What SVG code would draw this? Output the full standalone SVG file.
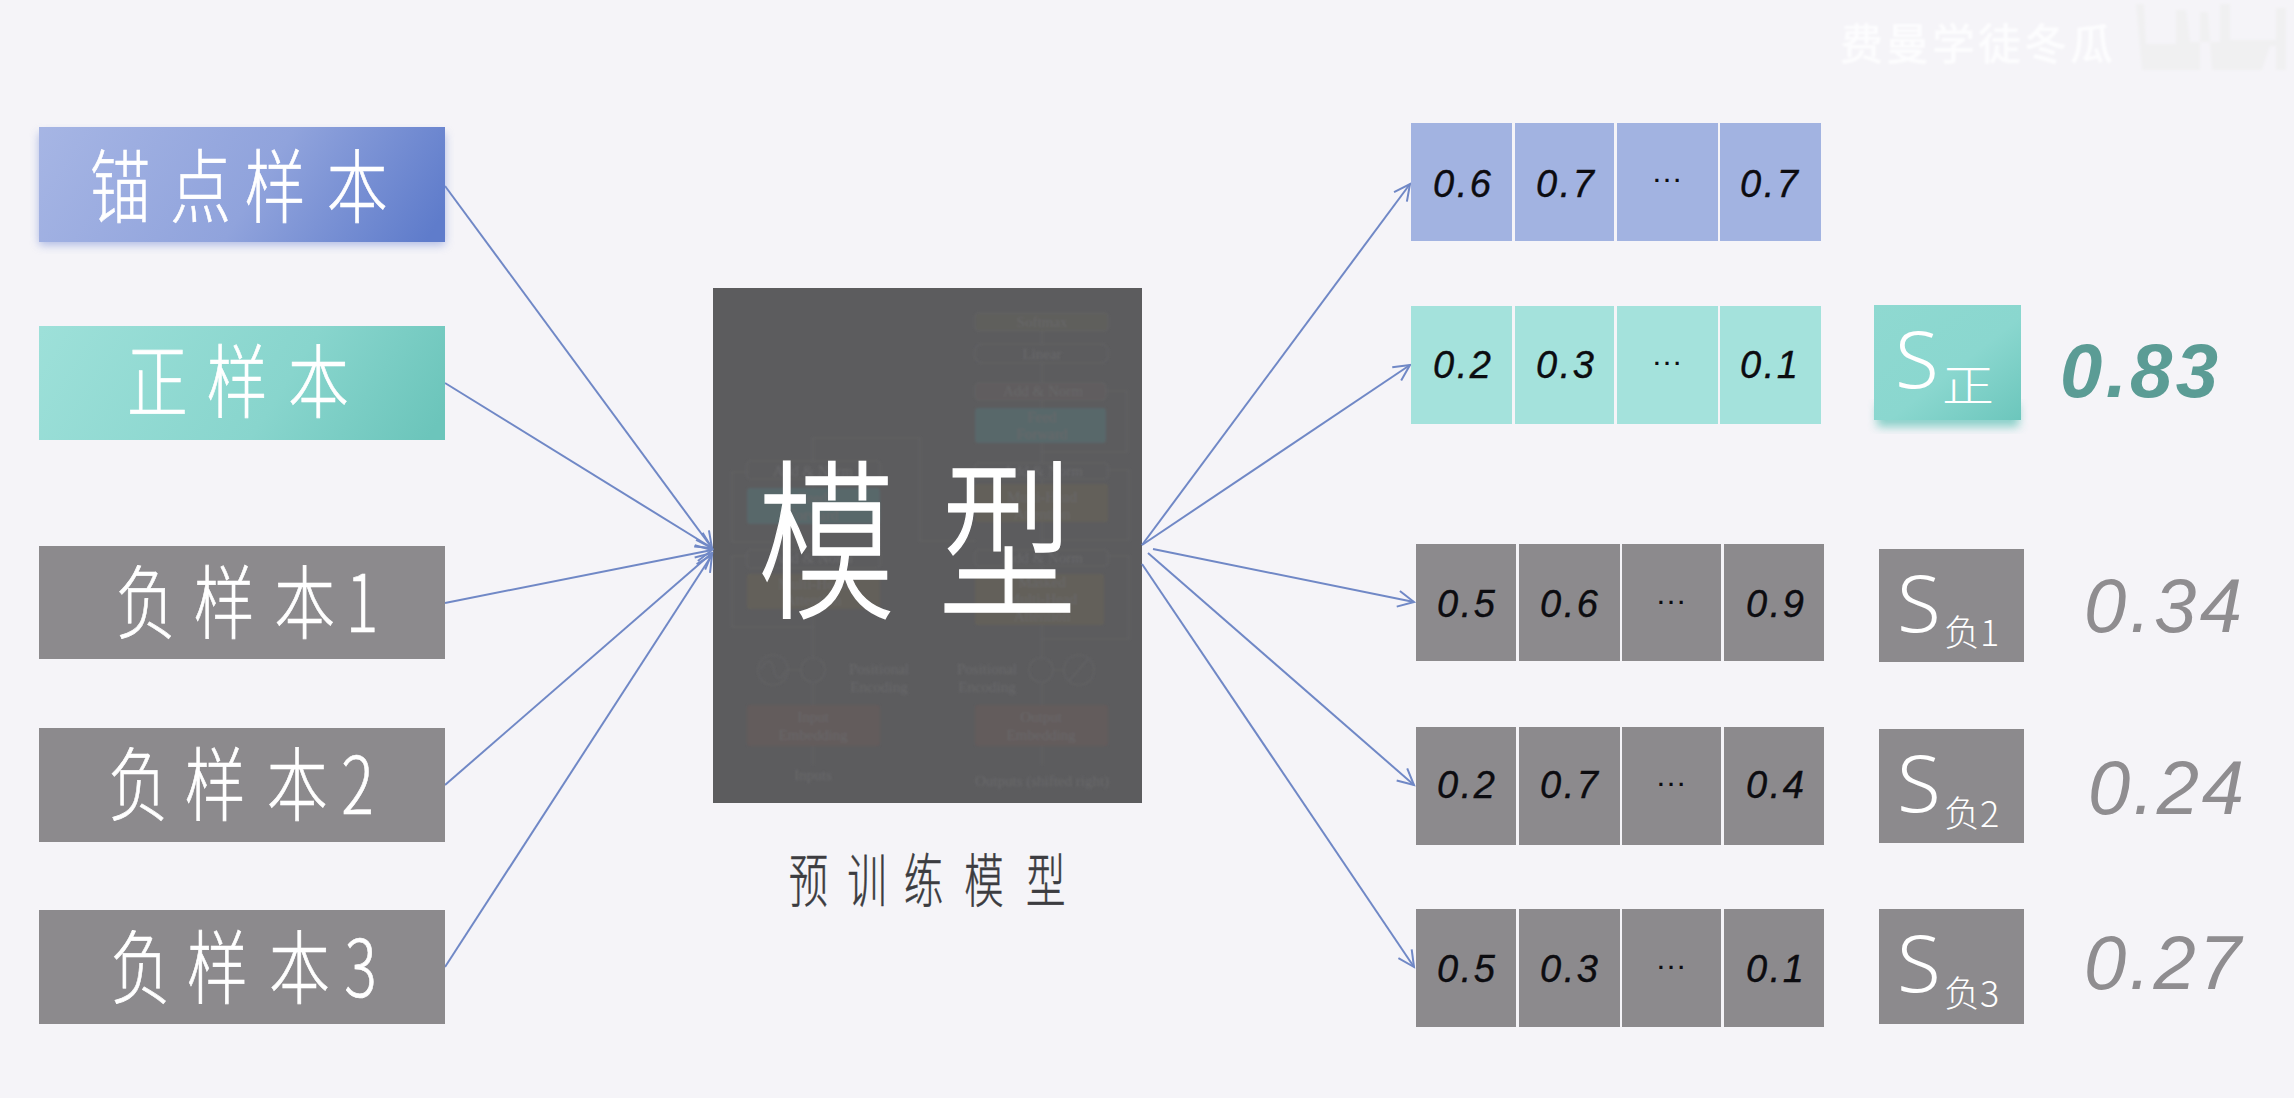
<svg xmlns="http://www.w3.org/2000/svg" width="2294" height="1098" viewBox="0 0 2294 1098">
<style>
.label{font-family:"Noto Sans CJK SC","Noto Sans",sans-serif;font-weight:300;fill:#fff;stroke:#fff;stroke-width:.7;font-size:80px}
.gray{fill:#8c8a8d}
.cell{font-family:"Liberation Sans",sans-serif;font-style:italic;font-size:38px;fill:#0c0c10;stroke:#0c0c10;stroke-width:.4;text-anchor:middle}
.dots{font-family:"Liberation Sans",sans-serif;font-size:32px;fill:#0c0c10;text-anchor:middle}
.bigS{font-family:"Noto Sans",sans-serif;font-weight:300;font-size:80px;fill:#fff}
.sub{font-family:"Noto Sans CJK SC",sans-serif;font-weight:300;fill:#fff;font-size:36px}
.val{font-family:"Liberation Sans",sans-serif;font-style:italic;font-size:76px;fill:#8f8d90}
.ghost{font-family:"Liberation Serif",serif;font-size:15px;fill:#69696b;text-anchor:middle}
.gbox{fill:none;stroke:#636365;stroke-width:1.2}
.gline{fill:none;stroke:#636365;stroke-width:1.2}
.conn{fill:none;stroke:#7088c6;stroke-width:2;marker-end:url(#arr)}
</style>
<defs>
<linearGradient id="gA" gradientUnits="userSpaceOnUse" x1="60" y1="60" x2="420" y2="290"><stop offset="0" stop-color="#a8b7e5"/><stop offset=".55" stop-color="#90a3dc"/><stop offset=".95" stop-color="#5f7ccb"/></linearGradient>
<linearGradient id="gP" gradientUnits="userSpaceOnUse" x1="60" y1="260" x2="420" y2="490"><stop offset="0" stop-color="#9fe1da"/><stop offset=".6" stop-color="#88d5cd"/><stop offset=".95" stop-color="#6cc5bb"/></linearGradient>
<linearGradient id="gS" x1="0" y1="0" x2="1" y2="1"><stop offset="0" stop-color="#8fd9d1"/><stop offset=".55" stop-color="#8ad7cf"/><stop offset="1" stop-color="#6cc6bc"/></linearGradient>
<filter id="sh" x="-10%" y="-20%" width="120%" height="150%"><feGaussianBlur stdDeviation="5"/></filter>
<filter id="bl" x="-5%" y="-5%" width="110%" height="110%"><feGaussianBlur stdDeviation="1"/></filter>
<filter id="bl2" x="-5%" y="-5%" width="110%" height="110%"><feGaussianBlur stdDeviation="1.5"/></filter>
<marker id="arr" markerUnits="userSpaceOnUse" markerWidth="28" markerHeight="28" refX="20" refY="10" orient="auto" overflow="visible"><path d="M4 2 L20 10 L4 18" fill="none" stroke="#7088c6" stroke-width="2"/></marker>
</defs>
<rect width="2294" height="1098" fill="#f5f4f8"/>

<g id="watermark">
<path d="M2136 4 L2142 70 H2200 V12 L2208 12 L2212 70 H2262 L2270 46 H2276 V70 H2286 V8 H2276 V40 H2230 V4 H2220 V42 H2190 L2186 10 H2176 V44 H2146 L2144 4 Z" fill="#f0f0f1" filter="url(#bl2)"/>
<text x="1840 1886 1932 1978 2024 2070" y="60" font-family="Noto Sans CJK SC,sans-serif" font-weight="500" font-size="43" fill="#fdfdfe" filter="url(#bl)">费曼学徒冬瓜</text>
</g>

<g id="model">
<rect x="713" y="288" width="429" height="515" fill="#5c5c5e"/>
<g filter="url(#bl)">
<rect class="gbox" x="975" y="313" width="133" height="18" rx="4" style="fill:#5f5e5c"/>
<rect class="gbox" x="975" y="344" width="133" height="19" rx="7"/>
<rect class="gbox" x="975" y="383" width="131" height="17" rx="4" style="fill:#605d5e"/>
<rect x="975" y="408" width="131" height="35" rx="3" fill="#59676b"/>
<rect class="gbox" x="975" y="463" width="133" height="16" rx="4"/>
<rect x="975" y="484" width="133" height="38" rx="3" fill="#64615a"/>
<rect class="gbox" x="975" y="550" width="133" height="16" rx="4"/>
<rect x="975" y="574" width="129" height="51" rx="3" fill="#64615a"/>
<rect x="975" y="705" width="133" height="41" rx="3" fill="#635c5c"/>
<rect class="gbox" x="747" y="461" width="133" height="18" rx="4"/>
<rect x="747" y="488" width="133" height="36" rx="3" fill="#59676b"/>
<rect class="gbox" x="747" y="550" width="133" height="18" rx="4"/>
<rect x="747" y="574" width="133" height="35" rx="3" fill="#64615a"/>
<rect x="747" y="705" width="133" height="41" rx="3" fill="#635c5c"/>
<circle class="gbox" cx="813" cy="670" r="12"/><circle class="gbox" cx="773" cy="670" r="15"/>
<circle class="gbox" cx="1041" cy="670" r="12"/><circle class="gbox" cx="1079" cy="670" r="15"/>
<path class="gline" d="M761 670 C767 657 772 660 774 670 S782 681 786 670 M788 670 H801 M1053 670 H1064 M1069 681 L1088 659 M813 765 V746 M813 705 V682 M813 658 V609 M813 550 V524 M813 488 V479 M813 461 V438 H920 V541 H975 M732 627 H813 M732 627 V556 H747 M732 542 H813 M732 542 V472 H747 M1042 765 V746 M1042 705 V682 M1042 658 V625 M1042 574 V566 M1042 550 V522 M1042 484 V479 M1042 463 V443 M1042 408 V400 M1042 383 V363 M1042 344 V331 M1106 391 H1127 V452 H1042 M1108 470 H1129 V540 H1042 M1108 556 H1129 V639 H1042"/>
<text class="ghost" x="1042" y="327">Softmax</text>
<text class="ghost" x="1042" y="359">Linear</text>
<text class="ghost" x="1043" y="396">Add &amp; Norm</text>
<text class="ghost" x="1042" y="422">Feed</text>
<text class="ghost" x="1042" y="439">Forward</text>
<text class="ghost" x="1043" y="476">Add &amp; Norm</text>
<text class="ghost" x="1042" y="502">Multi-Head</text>
<text class="ghost" x="1042" y="519">Attention</text>
<text class="ghost" x="1043" y="563">Add &amp; Norm</text>
<text class="ghost" x="1042" y="587">Masked</text>
<text class="ghost" x="1042" y="604">Multi-Head</text>
<text class="ghost" x="1042" y="621">Attention</text>
<text class="ghost" x="987" y="674">Positional</text>
<text class="ghost" x="987" y="692">Encoding</text>
<text class="ghost" x="879" y="674">Positional</text>
<text class="ghost" x="879" y="692">Encoding</text>
<text class="ghost" x="1041" y="722">Output</text>
<text class="ghost" x="1041" y="740">Embedding</text>
<text class="ghost" x="813" y="722">Input</text>
<text class="ghost" x="813" y="740">Embedding</text>
<text class="ghost" x="813" y="780">Inputs</text>
<text class="ghost" x="1042" y="786">Outputs (shifted right)</text>
<text class="ghost" x="813" y="476">Add &amp; Norm</text>
<text class="ghost" x="813" y="503">Feed</text>
<text class="ghost" x="813" y="520">Forward</text>
<text class="ghost" x="813" y="563">Add &amp; Norm</text>
<text class="ghost" x="813" y="589">Multi-Head</text>
<text class="ghost" x="813" y="605">Attention</text>
</g>
<g transform="scale(.8 1)">
<text x="947 1173" y="605" font-family="Noto Sans CJK SC,sans-serif" font-weight="300" font-size="172" fill="#fff" stroke="#fff" stroke-width="1.5">模型</text>
</g>
</g>

<g id="connectors">
<path class="conn" d="M445 186 L712 548"/>
<path class="conn" d="M445 383 L712 548"/>
<path class="conn" d="M445 603 L712 550"/>
<path class="conn" d="M445 785 L712 553"/>
<path class="conn" d="M445 967 L712 555"/>
<path class="conn" d="M1142 545 L1410 184"/>
<path class="conn" d="M1142 545 L1410 365"/>
<path class="conn" d="M1153 549 L1414 602"/>
<path class="conn" d="M1148 553 L1414 785"/>
<path class="conn" d="M1142 564 L1414 967"/>
</g>

<g id="anchor-sample">
<rect x="39" y="133" width="406" height="112" fill="#7f93d6" opacity=".6" filter="url(#sh)"/>
<rect x="39" y="127" width="406" height="115" fill="url(#gA)"/>
<text class="label" transform="scale(.76 1)" x="118 224 322 430" y="216">锚点样本</text>
</g>
<g id="positive-sample">
<rect x="39" y="326" width="406" height="114" fill="url(#gP)"/>
<text class="label" transform="scale(.76 1)" x="167 272 379" y="411">正样本</text>
</g>
<g id="negative-sample-1">
<rect class="gray" x="39" y="546" width="406" height="113"/>
<text class="label" transform="scale(.76 1)" x="152 255 361 455" y="632">负样本1</text>
</g>
<g id="negative-sample-2">
<rect class="gray" x="39" y="728" width="406" height="114"/>
<text class="label" transform="scale(.76 1)" x="142 243 351 449" y="814">负样本2</text>
</g>
<g id="negative-sample-3">
<rect class="gray" x="39" y="910" width="406" height="114"/>
<text class="label" transform="scale(.76 1)" x="145 246 354 453" y="997">负样本3</text>
</g>
<g id="pretrained-label">
<text transform="scale(.68 1)" x="1160 1246 1329 1418 1509" y="902" font-family="Noto Sans CJK SC,sans-serif" font-weight="300" font-size="58" fill="#3c3c40" stroke="#3c3c40" stroke-width=".5">预训练模型</text>
</g>

<g id="vector-anchor" fill="#a2b3e1">
<rect x="1411" y="123" width="101" height="118"/><rect x="1515" y="123" width="99" height="118"/><rect x="1617" y="123" width="101" height="118"/><rect x="1720" y="123" width="101" height="118"/>
<text class="cell" x="1462" y="197" textLength="58">0.6</text>
<text class="cell" x="1565" y="197" textLength="58">0.7</text>
<text class="dots" x="1667" y="182">…</text>
<text class="cell" x="1769" y="197" textLength="58">0.7</text>
</g>
<g id="vector-positive" fill="#a4e2dc">
<rect x="1411" y="306" width="101" height="118"/><rect x="1515" y="306" width="99" height="118"/><rect x="1617" y="306" width="101" height="118"/><rect x="1720" y="306" width="101" height="118"/>
<text class="cell" x="1462" y="378" textLength="58">0.2</text>
<text class="cell" x="1565" y="378" textLength="58">0.3</text>
<text class="dots" x="1667" y="365">…</text>
<text class="cell" x="1769" y="378" textLength="58">0.1</text>
</g>
<g id="vector-negative-1" fill="#8c8a8d">
<rect x="1416" y="544" width="100" height="117"/><rect x="1519" y="544" width="101" height="117"/><rect x="1622" y="544" width="99" height="117"/><rect x="1724" y="544" width="100" height="117"/>
<text class="cell" x="1466" y="617" textLength="58">0.5</text>
<text class="cell" x="1569" y="617" textLength="58">0.6</text>
<text class="dots" x="1671" y="604">…</text>
<text class="cell" x="1775" y="617" textLength="58">0.9</text>
</g>
<g id="vector-negative-2" fill="#8c8a8d">
<rect x="1416" y="727" width="100" height="118"/><rect x="1519" y="727" width="101" height="118"/><rect x="1622" y="727" width="99" height="118"/><rect x="1724" y="727" width="100" height="118"/>
<text class="cell" x="1466" y="798" textLength="58">0.2</text>
<text class="cell" x="1569" y="798" textLength="58">0.7</text>
<text class="dots" x="1671" y="786">…</text>
<text class="cell" x="1775" y="798" textLength="58">0.4</text>
</g>
<g id="vector-negative-3" fill="#8c8a8d">
<rect x="1416" y="909" width="100" height="118"/><rect x="1519" y="909" width="101" height="118"/><rect x="1622" y="909" width="99" height="118"/><rect x="1724" y="909" width="100" height="118"/>
<text class="cell" x="1466" y="982" textLength="58">0.5</text>
<text class="cell" x="1569" y="982" textLength="58">0.3</text>
<text class="dots" x="1671" y="969">…</text>
<text class="cell" x="1775" y="982" textLength="58">0.1</text>
</g>

<g id="score-positive">
<rect x="1877" y="404" width="142" height="23" fill="#6fc7bd" opacity=".8" filter="url(#sh)"/>
<rect x="1874" y="305" width="147" height="115" fill="url(#gS)"/>
<text class="bigS" x="1895" y="388">S</text>
<text class="sub" x="1942" y="402" textLength="52" lengthAdjust="spacingAndGlyphs" style="font-size:44px">正</text>
<text class="val" x="2060" y="397" textLength="158" style="fill:#5b9c95;font-weight:700">0.83</text>
</g>
<g id="score-negative-1">
<rect class="gray" x="1879" y="549" width="145" height="113"/>
<text class="bigS" x="1897" y="632">S</text>
<text class="sub" x="1944" y="646">负1</text>
<text class="val" x="2084" y="632" textLength="158">0.34</text>
</g>
<g id="score-negative-2">
<rect class="gray" x="1879" y="729" width="145" height="114"/>
<text class="bigS" x="1897" y="812">S</text>
<text class="sub" x="1944" y="827">负2</text>
<text class="val" x="2088" y="814" textLength="156">0.24</text>
</g>
<g id="score-negative-3">
<rect class="gray" x="1879" y="909" width="145" height="115"/>
<text class="bigS" x="1897" y="992">S</text>
<text class="sub" x="1944" y="1007">负3</text>
<text class="val" x="2084" y="989" textLength="157">0.27</text>
</g>
</svg>
